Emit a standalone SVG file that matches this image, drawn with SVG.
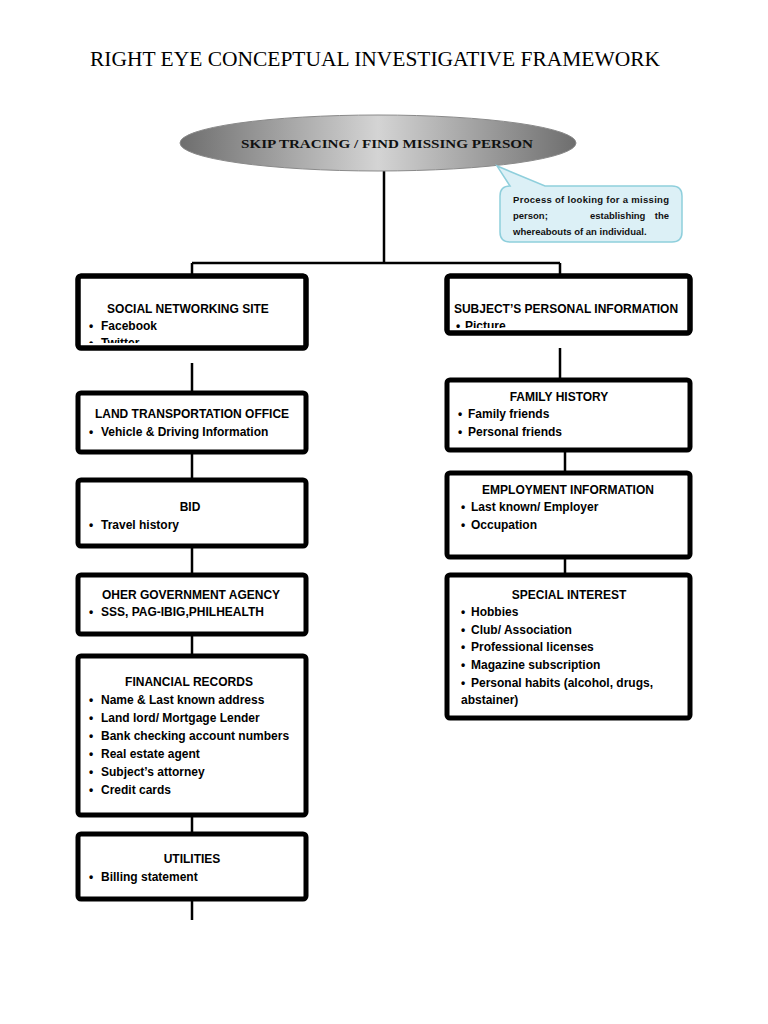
<svg xmlns="http://www.w3.org/2000/svg" width="768" height="1024" viewBox="0 0 768 1024">
<defs>
<linearGradient id="eg" x1="0" y1="0" x2="1" y2="0">
<stop offset="0" stop-color="#6e6e6e"/>
<stop offset="0.5" stop-color="#d4d4d4"/>
<stop offset="1" stop-color="#6e6e6e"/>
</linearGradient>
<clipPath id="c1"><rect x="80" y="278" width="224" height="65"/></clipPath>
<clipPath id="c2"><rect x="449" y="278" width="239" height="50"/></clipPath>
<style>
.box{fill:#fff;stroke:#000;stroke-width:5}
.t{font-family:"Liberation Sans",Arial,sans-serif;font-weight:bold;font-size:12px;fill:#000}
.h{text-anchor:middle}
.ln{stroke:#000;stroke-width:2.5;fill:none}
</style>
</defs>
<rect width="768" height="1024" fill="#fff"/>
<text x="90" y="66" font-family="'Liberation Serif','Times New Roman',serif" font-size="20" textLength="570" lengthAdjust="spacingAndGlyphs">RIGHT EYE CONCEPTUAL INVESTIGATIVE FRAMEWORK</text>

<g id="connectors">
<path class="ln" d="M384 168 V263 M192 263 H560 M192 263 V276 M560 263 V276"/>
<path class="ln" d="M192 363 V393 M192 452 V480 M192 546 V575 M192 634 V656 M192 815 V834 M192 899 V920"/>
<path class="ln" d="M560 348 V380 M565 450 V473 M565 557 V575"/>
</g>

<g id="root">
<ellipse cx="378" cy="143" rx="198" ry="28" fill="url(#eg)" stroke="#8a8a8a" stroke-width="1"/>
<text x="387" y="148" text-anchor="middle" font-family="'Liberation Serif','Times New Roman',serif" font-weight="bold" font-size="13" textLength="292" lengthAdjust="spacingAndGlyphs" fill="#111">SKIP TRACING / FIND MISSING PERSON</text>
</g>

<g id="callout">
<path d="M510 186 L497 166 L545 186 H672 Q682 186 682 196 V232 Q682 242 672 242 H510 Q500 242 500 232 V196 Q500 186 510 186 Z" fill="#dcf0f6" stroke="#8fcfdc" stroke-width="1.5"/>
<g font-family="'Liberation Sans',Arial,sans-serif" font-weight="bold" font-size="9.5" fill="#111">
<text x="513" y="203" textLength="156" lengthAdjust="spacing">Process of looking for a missing</text>
<text x="513" y="219">person;</text>
<text x="590" y="219">establishing</text>
<text x="669" y="219" text-anchor="end">the</text>
<text x="513" y="235">whereabouts of an individual.</text>
</g>
</g>

<g id="social">
<rect class="box" x="78" y="276" width="228" height="72" rx="3"/>
<g clip-path="url(#c1)" class="t">
<text x="188" y="313" class="h">SOCIAL NETWORKING SITE</text>
<text x="89" y="330">•<tspan x="101">Facebook</tspan></text>
<text x="89" y="347">•<tspan x="101">Twitter</tspan></text>
</g>
<rect x="78" y="276" width="228" height="72" rx="3" fill="none" stroke="#000" stroke-width="5"/>
</g>

<g id="lto">
<rect class="box" x="78" y="393" width="228" height="59" rx="3"/>
<text x="192" y="418" class="t h">LAND TRANSPORTATION OFFICE</text>
<text x="89" y="436" class="t">•<tspan x="101">Vehicle &amp; Driving Information</tspan></text>
</g>

<g id="bid">
<rect class="box" x="78" y="480" width="228" height="66" rx="3"/>
<text x="190" y="511" class="t h">BID</text>
<text x="89" y="529" class="t">•<tspan x="101">Travel history</tspan></text>
</g>

<g id="oher">
<rect class="box" x="78" y="575" width="228" height="59" rx="3"/>
<text x="191" y="599" class="t h">OHER GOVERNMENT AGENCY</text>
<text x="89" y="616" class="t">•<tspan x="101">SSS, PAG-IBIG,PHILHEALTH</tspan></text>
</g>

<g id="financial">
<rect class="box" x="78" y="656" width="228" height="159" rx="3"/>
<text x="189" y="686" class="t h">FINANCIAL RECORDS</text>
<text x="89" y="704" class="t">•<tspan x="101">Name &amp; Last known address</tspan></text>
<text x="89" y="722" class="t">•<tspan x="101">Land lord/ Mortgage Lender</tspan></text>
<text x="89" y="740" class="t">•<tspan x="101">Bank checking account numbers</tspan></text>
<text x="89" y="758" class="t">•<tspan x="101">Real estate agent</tspan></text>
<text x="89" y="776" class="t">•<tspan x="101">Subject’s attorney</tspan></text>
<text x="89" y="794" class="t">•<tspan x="101">Credit cards</tspan></text>
</g>

<g id="utilities">
<rect class="box" x="78" y="834" width="228" height="65" rx="3"/>
<text x="192" y="863" class="t h">UTILITIES</text>
<text x="89" y="881" class="t">•<tspan x="101">Billing statement</tspan></text>
</g>

<g id="subject">
<rect class="box" x="447" y="276" width="243" height="57" rx="3"/>
<g clip-path="url(#c2)" class="t">
<text x="566" y="313" class="h">SUBJECT’S PERSONAL INFORMATION</text>
<text x="456" y="330">•<tspan x="465">Picture</tspan></text>
</g>
<rect x="447" y="276" width="243" height="57" rx="3" fill="none" stroke="#000" stroke-width="5"/>
</g>

<g id="family">
<rect class="box" x="447" y="380" width="243" height="70" rx="3"/>
<text x="559" y="401" class="t h">FAMILY HISTORY</text>
<text x="458" y="418" class="t">•<tspan x="468">Family friends</tspan></text>
<text x="458" y="436" class="t">•<tspan x="468">Personal friends</tspan></text>
</g>

<g id="employment">
<rect class="box" x="447" y="473" width="243" height="84" rx="3"/>
<text x="568" y="494" class="t h">EMPLOYMENT INFORMATION</text>
<text x="461" y="511" class="t">•<tspan x="471">Last known/ Employer</tspan></text>
<text x="461" y="529" class="t">•<tspan x="471">Occupation</tspan></text>
</g>

<g id="special">
<rect class="box" x="447" y="575" width="243" height="143" rx="3"/>
<text x="569" y="599" class="t h">SPECIAL INTEREST</text>
<text x="461" y="616" class="t">•<tspan x="471">Hobbies</tspan></text>
<text x="461" y="634" class="t">•<tspan x="471">Club/ Association</tspan></text>
<text x="461" y="651" class="t">•<tspan x="471">Professional licenses</tspan></text>
<text x="461" y="669" class="t">•<tspan x="471">Magazine subscription</tspan></text>
<text x="461" y="687" class="t">•<tspan x="471">Personal habits (alcohol, drugs,</tspan></text>
<text x="461" y="704" class="t">abstainer)</text>
</g>
</svg>
